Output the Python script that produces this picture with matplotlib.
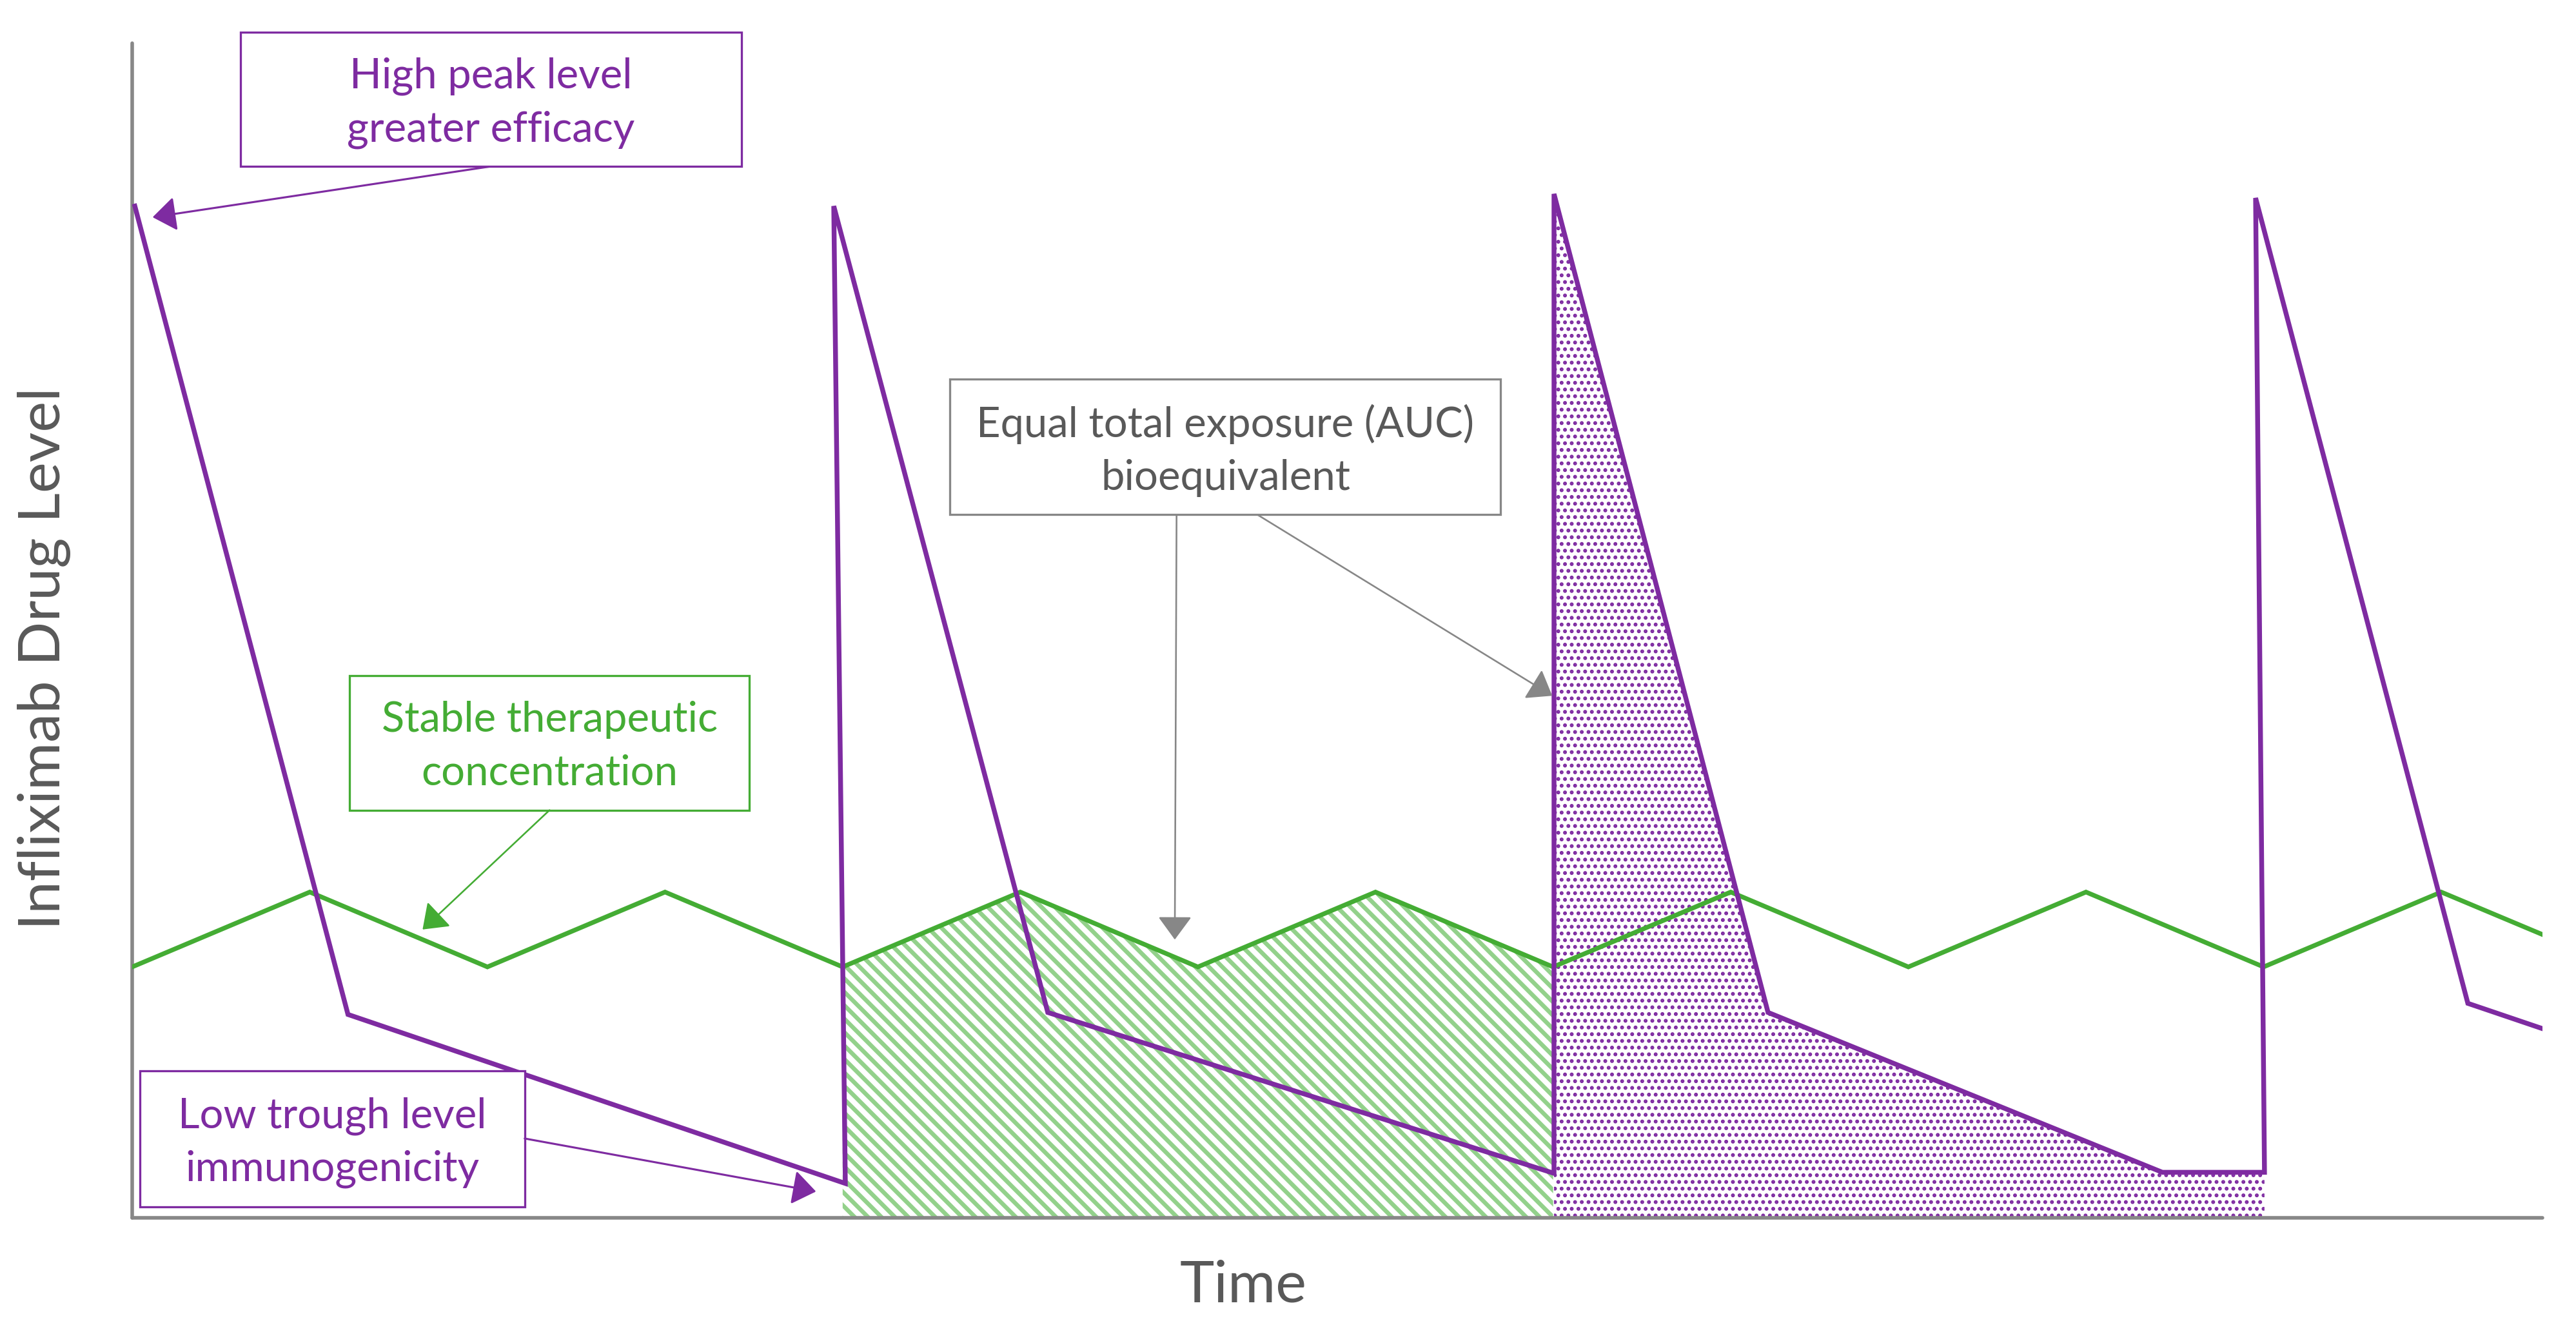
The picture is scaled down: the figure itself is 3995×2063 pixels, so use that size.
import numpy as np
import matplotlib as mpl
import matplotlib.pyplot as plt
from matplotlib.patches import Rectangle

PURPLE = '#7e2ba1'
GREEN = '#44ac34'
LIGHT_GREEN = '#93d18b'
AXIS_GRAY = '#878787'
TEXT_GRAY = '#595959'

# time in weeks (dose every 8 weeks), drug level in % of peak
purple_t = [0.03, 2.43, 8.03, 7.90, 10.31, 16.01, 16.01, 18.42, 22.86, 24.01, 23.91, 26.30, 27.14]
purple_level = [100.0, 20.1, 3.4, 100.0, 20.3, 4.4, 101.2, 20.3, 4.5, 4.5, 100.8, 21.2, 18.7]

green_t = [0, 2, 4, 6, 8, 10, 12, 14, 16, 18, 20, 22, 24, 26, 27.14]
green_level = [24.8, 32.2, 24.8, 32.2, 24.8, 32.2, 24.8, 32.2, 24.8, 32.2, 24.8, 32.2, 24.8, 32.2, 28.0]

plt.rcParams['font.family'] = ['Lato', 'DejaVu Sans']

fig = plt.figure(figsize=(31.96, 16.504), dpi=125)
ax = fig.add_axes([0.05131, 0.08434, 0.93567, 0.88318])
ax.set_xlim(0, 27.14)
ax.set_ylim(0, 116.1)

for side in ['top', 'right']:
    ax.spines[side].set_visible(False)
for side in ['left', 'bottom']:
    ax.spines[side].set_color(AXIS_GRAY)
    ax.spines[side].set_linewidth(3.2)
    ax.spines[side].set_capstyle('round')
ax.set_xticks([])
ax.set_yticks([])

gt = np.array(green_t)
gl = np.array(green_level)
pt = np.array(purple_t)
pl = np.array(purple_level)

# shaded AUC areas
sel = (gt >= 8) & (gt <= 16)
with mpl.rc_context({'hatch.linewidth': 3.8}):
    g_fill = ax.fill_between(gt[sel], gl[sel], 0, facecolor='none', edgecolor=LIGHT_GREEN,
                             hatch='\\\\', linewidth=0, zorder=1)
with mpl.rc_context({'hatch.linewidth': 2.2}):
    p_fill = ax.fill_between(pt[6:10], pl[6:10], 0, facecolor='none', edgecolor=PURPLE,
                             hatch='..', linewidth=0, zorder=1)
if hasattr(g_fill, 'set_hatch_linewidth'):
    g_fill.set_hatch_linewidth(3.8)
    p_fill.set_hatch_linewidth(2.2)

ax.plot(gt, gl, color=GREEN, lw=4.1, zorder=3, solid_joinstyle='miter')
ax.plot(pt, pl, color=PURPLE, lw=4.3, zorder=4, solid_joinstyle='miter')

ax.set_ylabel('Infliximab Drug Level', fontsize=52, color=TEXT_GRAY, va='baseline')
ax.yaxis.set_label_coords(-0.030, 0.4764)
ax.set_xlabel('Time', fontsize=52, color=TEXT_GRAY, va='baseline')
ax.xaxis.set_label_coords(0.461, -0.0714)

# callout boxes: (x0, x1, y0, y1), text, colour, arrow starts, arrow tips
boxes = [
    ((1.22, 6.86, 103.9, 117.2), 'High peak level\ngreater efficacy', PURPLE,
     [(4.02, 103.9)], [(0.23, 98.9)], 1.8),
    ((9.21, 15.41, 69.5, 82.9), 'Equal total exposure (AUC)\nbioequivalent', TEXT_GRAY,
     [(11.76, 69.5), (12.67, 69.5)], [(11.74, 27.5), (15.99, 51.6)], 1.5),
    ((2.45, 6.95, 40.3, 53.6), 'Stable therapeutic\nconcentration', GREEN,
     [(4.70, 40.3)], [(3.27, 28.5)], 1.5),
    ((0.09, 4.42, 1.1, 14.5), 'Low trough level\nimmunogenicity', PURPLE,
     [(4.42, 7.84)], [(7.70, 2.6)], 1.8),
]

for (x0, x1, y0, y1), label, col, starts, tips, alw in boxes:
    edge = AXIS_GRAY if col == TEXT_GRAY else col
    ax.add_patch(Rectangle((x0, y0), x1 - x0, y1 - y0, facecolor='white',
                           edgecolor=edge, lw=1.9, clip_on=False, zorder=5))
    ax.text((x0 + x1) / 2, (y0 + y1) / 2 - 0.35, label, color=col, fontsize=37.5,
            ha='center', va='center', multialignment='center', linespacing=1.48,
            zorder=6)
    for s, t in zip(starts, tips):
        ax.annotate('', xy=t, xytext=s, zorder=6,
                    arrowprops=dict(arrowstyle='-|>,head_length=0.45,head_width=0.33',
                                    mutation_scale=40, color=edge, lw=alw,
                                    shrinkA=0, shrinkB=0))

fig.savefig('out.png', dpi=125, facecolor='white')
